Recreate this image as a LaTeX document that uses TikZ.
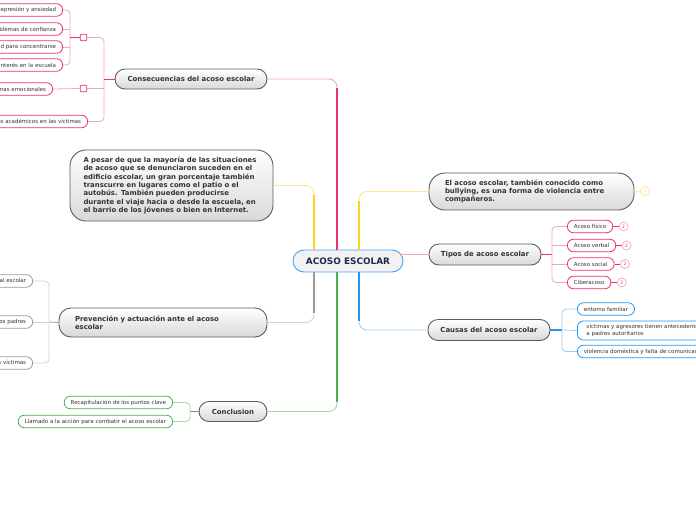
\documentclass[tikz,border=0pt]{standalone}
\usepackage{fontspec}
\setmainfont{DejaVu Sans}
\usetikzlibrary{calc}
\definecolor{pk}{HTML}{E8336D}
\definecolor{lpk}{HTML}{F6A3C0}
\definecolor{yl}{HTML}{FFD21F}
\definecolor{lyl}{HTML}{FFE58A}
\definecolor{gy}{HTML}{9A9A9A}
\definecolor{lgy}{HTML}{D2D2D2}
\definecolor{gn}{HTML}{4CAF50}
\definecolor{lgn}{HTML}{A9D9A3}
\definecolor{bl}{HTML}{2196F3}
\definecolor{lbl}{HTML}{9CCFF6}
\definecolor{bd}{HTML}{5C5C5C}
\definecolor{tx}{HTML}{333333}
\definecolor{navy}{HTML}{1B2A4E}
\tikzset{
 mainbox/.style={draw=bd, line width=0.9pt, rounded corners=10pt, top color=white, bottom color=black!15, text=tx, font=\fontsize{6.9}{8.4}\selectfont\bfseries, inner sep=0pt},
 leaf/.style={draw=#1, fill=white, line width=0.8pt, rounded corners=6pt, minimum height=12.5pt, inner xsep=6.5pt, inner ysep=0pt, text=tx, font=\fontsize{5.5}{6.6}\selectfont},
 cnt/.style={circle, draw=lpk, fill=white, line width=0.7pt, minimum size=9pt, inner sep=0pt, text=pk, font=\fontsize{4.5}{5}\selectfont},
 trunk/.style={line width=2.6pt, draw=#1},
 twig/.style={line width=0.8pt, draw=#1, rounded corners=4pt},
 bigturn/.style={line width=0.9pt, draw=#1, rounded corners=8pt},
 sqmark/.style={draw=pk, fill=white, line width=0.8pt, rounded corners=1pt, minimum size=6.5pt, inner sep=0pt},
}
\begin{document}
\begin{tikzpicture}[x=1pt,y=-1pt]
\useasboundingbox (0,0) rectangle (696,520);
\clip (0,0) rectangle (696,520);

% ---------- central
\node[draw=bl!85, fill=black!5, line width=0.9pt, rounded corners=11pt, minimum width=110pt, minimum height=22pt, inner sep=0pt, text=navy, font=\fontsize{8.9}{10}\selectfont\bfseries] (acoso) at (348,261) {ACOSO ESCOLAR};

% ---------- main nodes
\node[mainbox, minimum width=152pt, minimum height=20pt] (cons) at (191,79) {Consecuencias del acoso escolar};
\node[mainbox, rounded corners=16pt, minimum width=203pt, minimum height=71pt, text width=176pt, align=left] (tb) at (171.5,185.5) {A pesar de que la mayoría de las situaciones\\de acoso que se denunciaron suceden en el\\edificio escolar, un gran porcentaje también\\transcurre en lugares como el patio o el\\autobús. También pueden producirse\\durante el viaje hacia o desde la escuela, en\\el barrio de los jóvenes o bien en Internet.};
\node[mainbox, rounded corners=12pt, minimum width=208pt, minimum height=29pt, text width=176pt, align=left] (prev) at (163,322.5) {Prevención y actuación ante el acoso\\escolar};
\node[mainbox, minimum width=68pt, minimum height=20pt] (concl) at (233,411.5) {Conclusion};
\node[mainbox, rounded corners=16pt, minimum width=205pt, minimum height=37pt, text width=173pt, align=left] (def) at (531.5,191.5) {El acoso escolar, también conocido como\\bullying, es una forma de violencia entre\\compañeros.};
\node[mainbox, minimum width=112pt, minimum height=21pt] (tipos) at (485,254.5) {Tipos de acoso escolar};
\node[mainbox, minimum width=122pt, minimum height=21pt] (causas) at (489,330) {Causas del acoso escolar};

% ---------- trunks
\coordinate (pkc) at (337,88);
\coordinate (ylc) at (314,195);
\coordinate (gyc) at (314,313);
\coordinate (gnc) at (337,402);
\coordinate (yrc) at (359,201);
\coordinate (blc) at (359,321);
\draw[bigturn=lpk] (cons.east) -| ($(acoso.north)+(-11,0)$);
\draw[trunk=pk] (pkc) -- ($(acoso.north)+(-11,0)$);
\draw[bigturn=lyl] (tb.east) -| ($(acoso.north)+(-34,0)$);
\draw[trunk=yl] (ylc) -- ($(acoso.north)+(-34,0)$);
\draw[bigturn=lgy] ($(acoso.south)+(-34,0)$) |- (prev.east);
\draw[trunk=gy] ($(acoso.south)+(-34,0)$) -- (gyc);
\draw[bigturn=lgn] ($(acoso.south)+(-11,0)$) |- (concl.east);
\draw[trunk=gn] ($(acoso.south)+(-11,0)$) -- (gnc);
\draw[bigturn=lyl] ($(acoso.north)+(11,0)$) |- (def.west);
\draw[trunk=yl] ($(acoso.north)+(11,0)$) -- (yrc);
\draw[bigturn=lbl] ($(acoso.south)+(11,0)$) |- (causas.west);
\draw[trunk=bl] ($(acoso.south)+(11,0)$) -- (blc);
\draw[line width=1.2pt, lpk] ($(acoso.east)+(-3,-6.5)$) -- (tipos.west);

% ---------- Consecuencias children
\node[leaf=pk, anchor=east] (c1) at (63,10) {Depresión y ansiedad};
\node[leaf=pk, anchor=east] (c2) at (63,29) {Problemas de confianza};
\node[leaf=pk, anchor=east] (c3) at (63,47) {Dificultad para concentrarse};
\node[leaf=pk, anchor=east] (c4) at (63,65) {Falta de interés en la escuela};
\node[leaf=pk, anchor=east] (c5) at (53,89) {Problemas emocionales};
\node[leaf=pk, anchor=east] (c6) at (88,121.5) {Efectos académicos en las víctimas};
\node[sqmark] (sq1) at (83.5,37.5) {};
\node[sqmark] (sq2) at (83.5,88.5) {};
\coordinate (sb) at (70,37.5);
\coordinate (cb) at (104,79);
\draw[twig=lpk] (c1.east) -| (sb) |- (c4.east);
\draw[twig=lpk] (c2.east) -- (c2.east -| sb);
\draw[twig=lpk] (c3.east) -- (c3.east -| sb);
\draw[twig=pk] (sb) -- (sq1.west);
\draw[twig=lpk] (sq1.east) -| (cb) |- (c6.east);
\draw[twig=lpk] (sq2.east) -- (sq2.east -| cb);
\draw[twig=pk] (cb) -- (cons.west);
\draw[twig=lpk] (c5.east) -- (sq2.west);

% ---------- Prevencion children
\node[leaf=gy, anchor=east] (p1) at (33,281) {Formación del personal escolar};
\node[leaf=gy, anchor=east] (p2) at (33,322) {Involucrar a los padres};
\node[leaf=gy, anchor=east] (p3) at (33,363) {Apoyo a las víctimas};
\coordinate (pb) at (49,322);
\draw[twig=lgy] (p1.east) -| (pb) |- (p3.east);
\draw[twig=lgy] (p2.east) -- (pb);
\draw[twig=gy] (pb) -- (prev.west);

% ---------- Conclusion children
\node[leaf=gn, anchor=east] (k1) at (173,402.5) {Recapitulación de los puntos clave};
\node[leaf=gn, anchor=east] (k2) at (173,421.5) {Llamado a la acción para combatir el acoso escolar};
\coordinate (kb) at (190,411.5);
\draw[twig=lgn] (k1.east) -| (kb) |- (k2.east);
\draw[twig=gn] (kb) -- (concl.west);

% ---------- definition counter
\node[cnt, draw=lyl, text=lyl] (d2) at (645,191) {2};
\draw[twig=lyl] (def.east) -- (d2.west);

% ---------- Tipos children
\node[leaf=pk, anchor=west] (t1) at (567,226.5) {Acoso físico};
\node[leaf=pk, anchor=west] (t2) at (567,245.5) {Acoso verbal};
\node[leaf=pk, anchor=west] (t3) at (567,264) {Acoso social};
\node[leaf=pk, anchor=west] (t4) at (567,282.5) {Ciberacoso};
\node[cnt] (n1) at ($(t1.east)+(10.5,0)$) {2};
\node[cnt] (n2) at ($(t2.east)+(10.5,0)$) {2};
\node[cnt] (n3) at ($(t3.east)+(10.5,0)$) {2};
\node[cnt] (n4) at ($(t4.east)+(10.5,0)$) {2};
\foreach \i in {1,2,3,4} {\draw[line width=0.7pt, pk] (t\i.east) -- (n\i.west);}
\coordinate (tbr) at (552,254.5);
\draw[line width=1.6pt, pk] (tipos.east) -- (tbr);
\draw[twig=lpk] (t1.west) -| (tbr) |- (t4.west);
\draw[twig=lpk] (t2.west) -- (t2.west -| tbr);
\draw[twig=lpk] (t3.west) -- (t3.west -| tbr);

% ---------- Causas children
\node[leaf=bl, anchor=west] (u1) at (577,309) {entorno familiar};
\node[leaf=bl, anchor=west, inner xsep=9pt, minimum height=19pt, align=left] (u2) at (577,330.5) {víctimas y agresores tienen antecedentes\\a padres autoritarios};
\node[leaf=bl, anchor=west] (u3) at (577,351.5) {violencia doméstica y falta de comunicación};
\coordinate (ub) at (562,330);
\draw[line width=1.3pt, bl] (causas.east) -- (ub);
\draw[twig=lbl] (u1.west) -| (ub) |- (u3.west);
\draw[twig=lbl] (u2.west) -- (ub);
\end{tikzpicture}
\end{document}
